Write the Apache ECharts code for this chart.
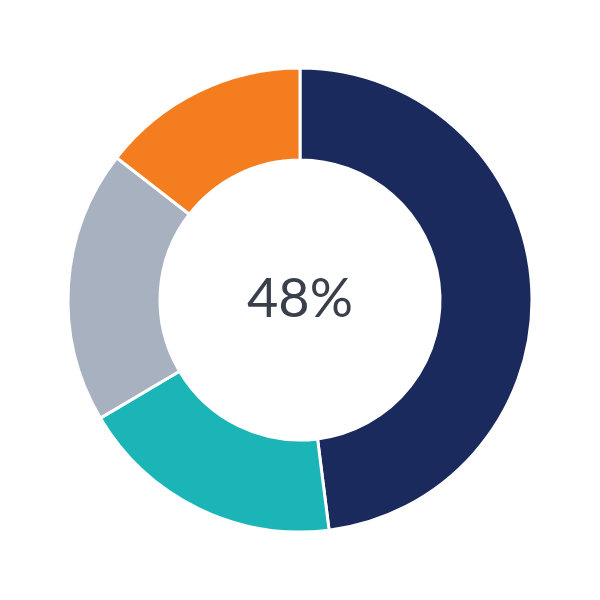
<!DOCTYPE html>
<html>
<head>
<meta charset="utf-8">
<script src="https://cdn.jsdelivr.net/npm/echarts@6/dist/echarts.min.js"></script>
<style>html,body{margin:0;padding:0;background:#fff}#c{width:600px;height:600px}</style>
</head>
<body>
<div id="c"></div>
<script>
const categories = ['A', 'B', 'C', 'D'];
const values = [48, 18.5, 19, 14.5];
const colors = ['#1b2a5c', '#1bb5b8', '#a7b1c0', '#f47d20'];
const centerLabel = '48%';

const chart = echarts.init(document.getElementById('c'), null, {renderer: 'canvas'});
chart.setOption({
  animation: false,
  title: {
    text: centerLabel,
    left: 'center',
    top: 'middle',
    textStyle: {fontFamily: 'Lato', fontWeight: 400, fontSize: 54, color: '#3a404b'}
  },
  series: [{
    type: 'pie',
    center: ['50%', '50%'],
    radius: [140, 232],
    startAngle: 90,
    clockwise: true,
    label: {show: false},
    labelLine: {show: false},
    emphasis: {disabled: true},
    itemStyle: {borderColor: '#ffffff', borderWidth: 3},
    data: categories.map((c, i) => ({name: c, value: values[i], itemStyle: {color: colors[i]}}))
  }]
});
</script>
</body>
</html>
